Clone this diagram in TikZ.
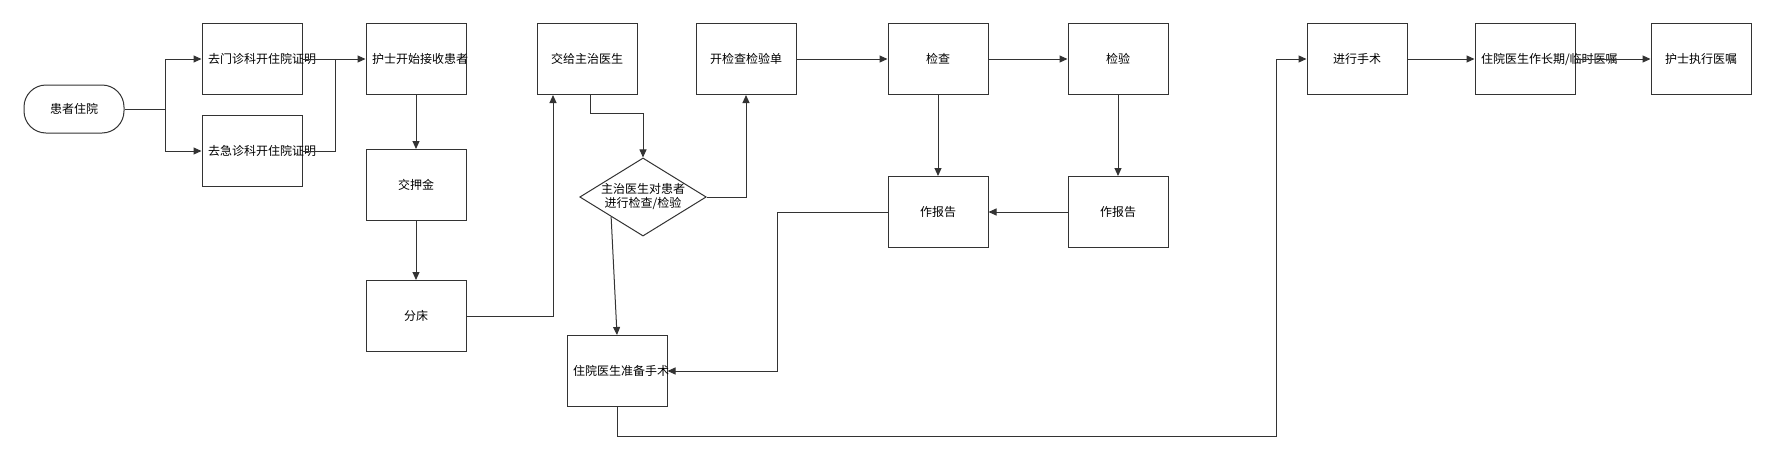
\documentclass[tikz,border=0pt]{standalone}
\usepackage{fontspec}
\setmainfont{Noto Sans CJK SC}
\usetikzlibrary{shapes.geometric,arrows.meta}
\begin{document}
\begin{tikzpicture}[x=1pt,y=-1pt,
  base/.style={draw=black!80,line width=1pt,fill=white,align=center,font=\fontsize{12}{15}\selectfont,inner sep=2pt},
  box/.style={base,minimum width=100pt,minimum height=71pt,text width=88pt},
  arr/.style={draw=black!80,line width=1pt,-{Triangle[length=8pt,width=7pt]}},
  ln/.style={draw=black!80,line width=1pt}]
\useasboundingbox (0,0) rectangle (1774,461);
\node[base,rounded corners=22pt,minimum width=100pt,minimum height=48pt] (start) at (74,109) {患者住院};
\node[box] (a1) at (252,59) {去门诊科开住院证明};
\node[box] (a2) at (252,151) {去急诊科开住院证明};
\node[box] (n1) at (416,59) {护士开始接收患者};
\node[box] (n2) at (416,185) {交押金};
\node[box] (n3) at (416,316) {分床};
\node[box] (d1) at (587,59) {交给主治医生};
\node[box] (d2) at (746,59) {开检查检验单};
\node[box] (c1) at (938,59) {检查};
\node[box] (c2) at (1118,59) {检验};
\node[diamond,draw=black!80,line width=1pt,fill=white,minimum width=120pt,minimum height=74pt,aspect=1.62,inner sep=0pt,align=center,font=\fontsize{12}{14}\selectfont] (dm) at (643,197) {主治医生对患者\\进行检查/检验};
\node[box] (r1) at (938,212) {作报告};
\node[box] (r2) at (1118,212) {作报告};
\node[box] (s1) at (617,371) {住院医生准备手术};
\node[box] (o1) at (1357,59) {进行手术};
\node[box] (o2) at (1525,59) {住院医生作长期/临时医嘱};
\node[box] (o3) at (1701,59) {护士执行医嘱};
\coordinate (sp) at (165,109);
\draw[ln] (start.east) -- (sp);
\draw[arr] (sp) |- (a1.west);
\draw[arr] (sp) |- (a2.west);
\coordinate (mg) at (335,59);
\draw[ln] (a1.east) -- (mg);
\draw[ln] (a2.east) -| (mg);
\draw[arr] (mg) -- (n1.west);
\draw[arr] (n1) -- (n2);
\draw[arr] (n2) -- (n3);
\draw[arr] (n3.east) -| (d1.south -| 553,0);
\draw[arr] (d1.south -| 590,0) -- (590,113) -| (dm.north);
\draw[arr] (dm.east) -| (d2.south);
\draw[arr] (dm.south west) -- (s1.north);
\draw[arr] (d2) -- (c1);
\draw[arr] (c1) -- (c2);
\draw[arr] (c1) -- (r1);
\draw[arr] (c2) -- (r2);
\draw[arr] (r2) -- (r1);
\draw[arr] (r1.west) -- (777,212) -- (777,371) -- (s1.east);
\draw[arr] (s1.south) -- (617,436) -- (1276,436) -- (1276,59) -- (o1.west);
\draw[arr] (o1) -- (o2);
\draw[arr] (o2) -- (o3);
\end{tikzpicture}
\end{document}
